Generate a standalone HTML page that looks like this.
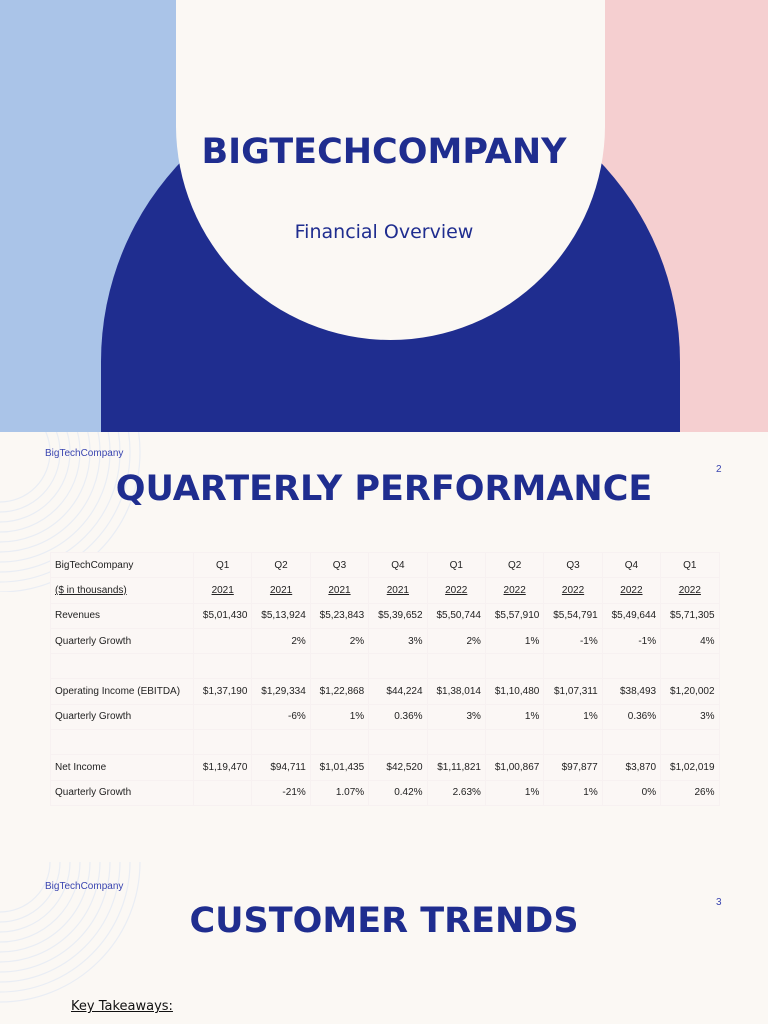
<!DOCTYPE html>
<html><head><meta charset="utf-8"><style>
body{margin:0;width:768px;height:1024px;overflow:hidden;background:#fbf8f4;font-family:"Liberation Sans",sans-serif;position:relative}
.abs{position:absolute}
.brand{font-size:10px;color:#3a45b0}
.h{font-family:"DejaVu Sans",sans-serif;font-weight:bold;color:#1f2d8f;text-align:center;width:768px;left:0}
table{border-collapse:collapse;font-size:10px;color:#222;table-layout:fixed;width:669px}
td{height:24.3px;padding:0 4px;text-align:right;border:1px solid #f7f1f1;background:#fbf7f5;white-space:nowrap;overflow:visible}
td:first-child{text-align:left}
td.c{text-align:center}
u{text-decoration:underline}
</style></head><body>
<div class="abs" style="left:0;top:0;width:768px;height:432px;overflow:hidden;background:#fbf8f4">
<div class="abs" style="left:0;top:0;width:180px;height:432px;background:#aac4e8"></div>
<div class="abs" style="left:600px;top:0;width:168px;height:432px;background:#f5cfd0"></div>
<div class="abs" style="left:101px;top:72px;width:579px;height:400px;background:#1f2d8f;border-radius:290px 290px 0 0"></div>
<div class="abs" style="left:176px;top:-90px;width:429px;height:430px;background:#fbf8f4;border-radius:0 0 215px 215px"></div>
<div class="abs h" style="top:132px;font-size:35px">BIGTECHCOMPANY</div>
<div class="abs" style="left:0;width:768px;text-align:center;top:221px;font-family:'DejaVu Sans',sans-serif;font-size:19px;color:#1f2d8f">Financial Overview</div>
</div>
<svg class="abs" style="left:0;top:432px" width="150" height="160"><g fill="none" stroke="#e9edf4" stroke-width="1.2">
<circle cx="0" cy="20" r="140"/><circle cx="0" cy="20" r="130"/><circle cx="0" cy="20" r="120"/><circle cx="0" cy="20" r="110"/><circle cx="0" cy="20" r="100"/><circle cx="0" cy="20" r="90"/><circle cx="0" cy="20" r="80"/><circle cx="0" cy="20" r="70"/><circle cx="0" cy="20" r="60"/><circle cx="0" cy="20" r="50"/></g></svg>
<svg class="abs" style="left:0;top:862px" width="150" height="160"><g fill="none" stroke="#e9edf4" stroke-width="1.2">
<circle cx="0" cy="0" r="140"/><circle cx="0" cy="0" r="130"/><circle cx="0" cy="0" r="120"/><circle cx="0" cy="0" r="110"/><circle cx="0" cy="0" r="100"/><circle cx="0" cy="0" r="90"/><circle cx="0" cy="0" r="80"/><circle cx="0" cy="0" r="70"/><circle cx="0" cy="0" r="60"/><circle cx="0" cy="0" r="50"/></g></svg>
<div class="abs brand" style="left:45px;top:448px">BigTechCompany</div>
<div class="abs brand" style="left:716px;top:464px">2</div>
<div class="abs h" style="top:469px;font-size:35px">QUARTERLY PERFORMANCE</div>
<table class="abs" style="left:50px;top:552px">
<colgroup><col style="width:143px"><col style="width:58.4px"><col style="width:58.4px"><col style="width:58.4px"><col style="width:58.4px"><col style="width:58.4px"><col style="width:58.4px"><col style="width:58.4px"><col style="width:58.4px"><col style="width:58.4px"></colgroup>
<tr><td>BigTechCompany</td><td class="c">Q1</td><td class="c">Q2</td><td class="c">Q3</td><td class="c">Q4</td><td class="c">Q1</td><td class="c">Q2</td><td class="c">Q3</td><td class="c">Q4</td><td class="c">Q1</td></tr>
<tr><td><u>($ in thousands)</u></td><td class="c"><u>2021</u></td><td class="c"><u>2021</u></td><td class="c"><u>2021</u></td><td class="c"><u>2021</u></td><td class="c"><u>2022</u></td><td class="c"><u>2022</u></td><td class="c"><u>2022</u></td><td class="c"><u>2022</u></td><td class="c"><u>2022</u></td></tr>
<tr><td>Revenues</td><td>$5,01,430</td><td>$5,13,924</td><td>$5,23,843</td><td>$5,39,652</td><td>$5,50,744</td><td>$5,57,910</td><td>$5,54,791</td><td>$5,49,644</td><td>$5,71,305</td></tr>
<tr><td>Quarterly Growth</td><td></td><td>2%</td><td>2%</td><td>3%</td><td>2%</td><td>1%</td><td>-1%</td><td>-1%</td><td>4%</td></tr>
<tr><td></td><td></td><td></td><td></td><td></td><td></td><td></td><td></td><td></td><td></td></tr>
<tr><td>Operating Income (EBITDA)</td><td>$1,37,190</td><td>$1,29,334</td><td>$1,22,868</td><td>$44,224</td><td>$1,38,014</td><td>$1,10,480</td><td>$1,07,311</td><td>$38,493</td><td>$1,20,002</td></tr>
<tr><td>Quarterly Growth</td><td></td><td>-6%</td><td>1%</td><td>0.36%</td><td>3%</td><td>1%</td><td>1%</td><td>0.36%</td><td>3%</td></tr>
<tr><td></td><td></td><td></td><td></td><td></td><td></td><td></td><td></td><td></td><td></td></tr>
<tr><td>Net Income</td><td>$1,19,470</td><td>$94,711</td><td>$1,01,435</td><td>$42,520</td><td>$1,11,821</td><td>$1,00,867</td><td>$97,877</td><td>$3,870</td><td>$1,02,019</td></tr>
<tr><td>Quarterly Growth</td><td></td><td>-21%</td><td>1.07%</td><td>0.42%</td><td>2.63%</td><td>1%</td><td>1%</td><td>0%</td><td>26%</td></tr>
</table>
<div class="abs brand" style="left:45px;top:881px">BigTechCompany</div>
<div class="abs brand" style="left:716px;top:897px">3</div>
<div class="abs h" style="top:901px;font-size:35px">CUSTOMER TRENDS</div>
<div class="abs" style="left:71px;top:999px;font-family:'DejaVu Sans',sans-serif;font-size:13px;color:#111;text-decoration:underline">Key Takeaways:</div>
</body></html>
